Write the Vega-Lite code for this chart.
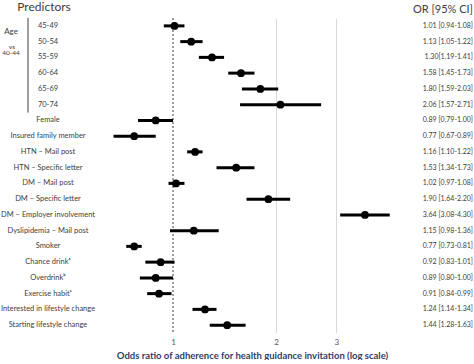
{
  "$schema": "https://vega.github.io/schema/vega-lite/v6.json",
  "padding": {"left": 0, "right": 0, "top": 1, "bottom": 0},
  "spacing": 0,
  "bounds": "flush",
  "config": {
    "view": {"stroke": null},
    "font": "Lato",
    "text": {"font": "Lato"}
  },
  "datasets": {
    "one": [{"n": 1}]
  },
  "data": {
    "values": [
      {"pred": "45-49", "or": 1.01, "lo": 0.94, "hi": 1.08, "ci": "1.01 [0.94-1.08]"},
      {"pred": "50-54", "or": 1.13, "lo": 1.05, "hi": 1.22, "ci": "1.13 [1.05-1.22]"},
      {"pred": "55-59", "or": 1.30, "lo": 1.19, "hi": 1.41, "ci": "1.30[1.19-1.41]"},
      {"pred": "60-64", "or": 1.58, "lo": 1.45, "hi": 1.73, "ci": "1.58 [1.45-1.73]"},
      {"pred": "65-69", "or": 1.80, "lo": 1.59, "hi": 2.03, "ci": "1.80 [1.59-2.03]"},
      {"pred": "70-74", "or": 2.06, "lo": 1.57, "hi": 2.71, "ci": "2.06 [1.57-2.71]"},
      {"pred": "Female", "or": 0.89, "lo": 0.79, "hi": 1.00, "ci": "0.89 [0.79-1.00]"},
      {"pred": "Insured family member", "or": 0.77, "lo": 0.67, "hi": 0.89, "ci": "0.77 [0.67-0.89]"},
      {"pred": "HTN – Mail post", "or": 1.16, "lo": 1.10, "hi": 1.22, "ci": "1.16 [1.10-1.22]"},
      {"pred": "HTN – Specific letter", "or": 1.53, "lo": 1.34, "hi": 1.73, "ci": "1.53 [1.34-1.73]"},
      {"pred": "DM – Mail post", "or": 1.02, "lo": 0.97, "hi": 1.08, "ci": "1.02 [0.97-1.08]"},
      {"pred": "DM – Specific letter", "or": 1.90, "lo": 1.64, "hi": 2.20, "ci": "1.90 [1.64-2.20]"},
      {"pred": "DM – Employer involvement", "or": 3.64, "lo": 3.08, "hi": 4.30, "ci": "3.64 [3.08-4.30]"},
      {"pred": "Dyslipidemia – Mail post", "or": 1.15, "lo": 0.98, "hi": 1.36, "ci": "1.15 [0.98-1.36]"},
      {"pred": "Smoker", "or": 0.77, "lo": 0.73, "hi": 0.81, "ci": "0.77 [0.73-0.81]"},
      {"pred": "Chance drinkᵃ", "or": 0.92, "lo": 0.83, "hi": 1.01, "ci": "0.92 [0.83-1.01]"},
      {"pred": "Overdrinkᵇ", "or": 0.89, "lo": 0.80, "hi": 1.00, "ci": "0.89 [0.80-1.00]"},
      {"pred": "Exercise habitᶜ", "or": 0.91, "lo": 0.84, "hi": 0.99, "ci": "0.91 [0.84-0.99]"},
      {"pred": "Interested in lifestyle change", "or": 1.24, "lo": 1.14, "hi": 1.34, "ci": "1.24 [1.14-1.34]"},
      {"pred": "Starting lifestyle change", "or": 1.44, "lo": 1.28, "hi": 1.63, "ci": "1.44 [1.28-1.63]"}
    ]
  },
  "hconcat": [
    {
      "width": 100,
      "height": 315,
      "title": {"text": "Predictors", "fontSize": 12, "font": "Lato", "fontWeight": "normal", "color": "#404040", "anchor": "middle", "dx": -8, "offset": 3},
      "layer": [
        {
          "mark": {"type": "text", "fontSize": 7.5, "color": "#404040", "align": "center", "baseline": "middle"},
          "encoding": {
            "y": {"field": "pred", "type": "nominal", "sort": null, "axis": null, "scale": {"paddingInner": 0, "paddingOuter": 0}},
            "x": {"datum": 46, "type": "quantitative", "scale": {"domain": [0, 100], "nice": false, "zero": false}, "axis": null},
            "text": {"field": "pred"}
          }
        },
        {
          "data": {"name": "one"},
          "mark": {"type": "text", "fontSize": 8, "color": "#404040", "align": "center", "baseline": "middle", "dy": 6},
          "encoding": {
            "y": {"datum": "45-49", "type": "nominal"},
            "x": {"datum": 9, "type": "quantitative"},
            "text": {"value": "Age"}
          }
        },
        {
          "data": {"name": "one"},
          "mark": {"type": "text", "fontSize": 6.5, "color": "#404040", "align": "center", "baseline": "middle", "dy": 5},
          "encoding": {
            "y": {"datum": "50-54", "type": "nominal"},
            "x": {"datum": 10, "type": "quantitative"},
            "text": {"value": "vs"}
          }
        },
        {
          "data": {"name": "one"},
          "mark": {"type": "text", "fontSize": 6.5, "color": "#404040", "align": "center", "baseline": "middle", "dy": -4.5},
          "encoding": {
            "y": {"datum": "55-59", "type": "nominal"},
            "x": {"datum": 9, "type": "quantitative"},
            "text": {"value": "40-44"}
          }
        },
        {
          "data": {"name": "one"},
          "mark": {"type": "rule", "color": "#404040", "strokeWidth": 1, "yOffset": -8, "y2Offset": 8},
          "encoding": {
            "y": {"datum": "45-49", "type": "nominal"},
            "y2": {"datum": "70-74"},
            "x": {"datum": 26, "type": "quantitative"}
          }
        }
      ]
    },
    {
      "width": 300,
      "height": 315,
      "encoding": {
        "y": {"field": "pred", "type": "nominal", "sort": null, "axis": null, "scale": {"paddingInner": 0, "paddingOuter": 0}}
      },
      "layer": [
        {
          "data": {"name": "one"},
          "mark": {"type": "rule", "color": "#7f7f7f", "strokeWidth": 1.5, "strokeDash": [2, 2]},
          "encoding": {
            "x": {"datum": 1, "type": "quantitative"},
            "y": null
          }
        },
        {
          "mark": {"type": "rule", "color": "black", "strokeWidth": 3},
          "encoding": {
            "x": {
              "field": "lo", "type": "quantitative",
              "scale": {"type": "log", "domain": [0.62, 4.67], "nice": false},
              "axis": {
                "values": [1, 2, 3], "format": "~g", "domain": false, "ticks": false,
                "grid": true, "gridColor": "#d9d9d9", "gridWidth": 1,
                "gridOpacity": {"condition": {"test": "datum.value === 1", "value": 0}, "value": 1},
                "labelFont": "Lato", "labelFontSize": 8, "labelColor": "#595959", "labelPadding": 5,
                "title": "Odds ratio of adherence for health guidance invitation (log scale)",
                "titleFont": "Lato", "titleFontSize": 9.5, "titleFontWeight": "bold", "titleColor": "#2f3d6b", "titlePadding": 4
              }
            },
            "x2": {"field": "hi"}
          }
        },
        {
          "mark": {"type": "circle", "color": "black", "size": 60, "opacity": 1},
          "encoding": {
            "x": {"field": "or", "type": "quantitative"}
          }
        }
      ]
    },
    {
      "width": 74,
      "height": 315,
      "title": {"text": "OR [95% CI]", "fontSize": 11, "font": "Lato", "fontWeight": "normal", "color": "#404040", "anchor": "end", "dx": -3, "offset": 3},
      "mark": {"type": "text", "fontSize": 7, "color": "#404040", "align": "right", "baseline": "middle", "dx": -3},
      "encoding": {
        "y": {"field": "pred", "type": "nominal", "sort": null, "axis": null, "scale": {"paddingInner": 0, "paddingOuter": 0}},
        "x": {"datum": 1, "type": "quantitative", "scale": {"domain": [0, 1], "nice": false, "zero": false}, "axis": null},
        "text": {"field": "ci"}
      }
    }
  ]
}
